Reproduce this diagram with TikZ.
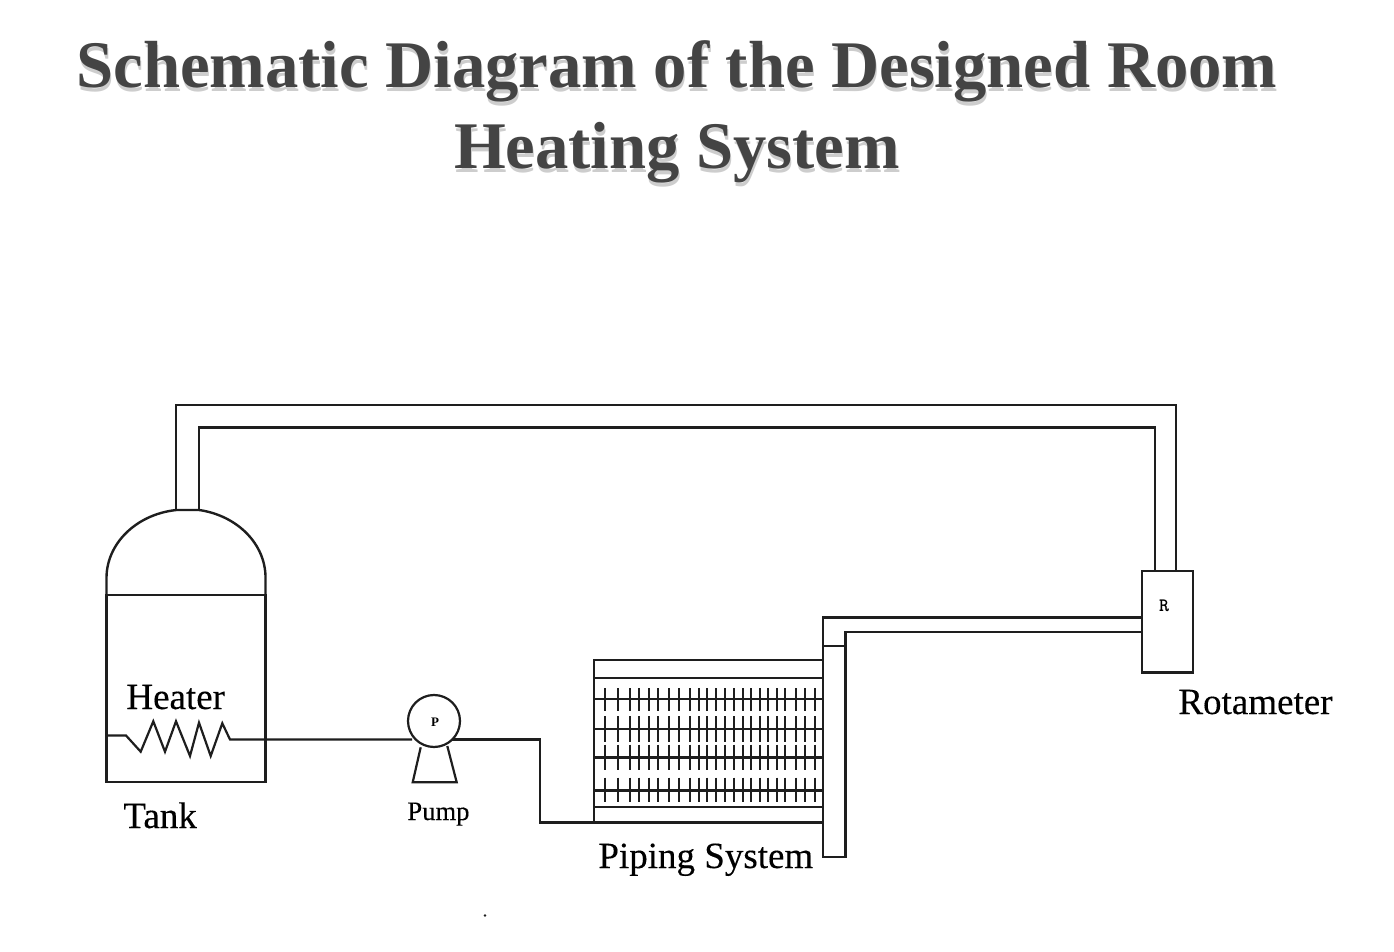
\documentclass[tikz,border=0pt]{standalone}
\usepackage{fontspec}
\setmainfont{Liberation Serif}
\newfontfamily\labfont[FakeBold=0.25]{Liberation Serif}
\definecolor{ink}{HTML}{1E1E1E}
\definecolor{titleink}{HTML}{444444}
\definecolor{titleshade}{HTML}{CDCDCD}
\tikzset{
  px/.style={x=0.5pt,y=-0.5pt},
  pipe/.style={draw=ink,line width=1.2pt,line join=miter},
  thinpipe/.style={draw=ink,line width=1.1pt,line join=miter},
  fin/.style={draw=ink,line width=1pt},
  lab/.style={inner sep=0pt,text=black,font=\labfont\fontsize{18.5}{20}\selectfont},
  titletext/.style={inner sep=0pt,align=center,font=\fontsize{33.3}{40.5}\selectfont\bfseries},
}
\begin{document}
\begin{tikzpicture}[px]
\useasboundingbox (0,0) rectangle (1394,952);
\fill[white] (0,0) rectangle (1394,952);
% title with its soft shadow
\node[titletext,text=titleshade] (titleshadow) at (678,115.5) {Schematic Diagram of the Designed Room\\Heating System};
\node[titletext,text=titleink] (title) at (677,112) {Schematic Diagram of the Designed Room\\Heating System};
% tank
\coordinate (tankTL) at (106.5,595);
\coordinate (tankTR) at (265.5,595);
\coordinate (tankBL) at (106.5,782);
\coordinate (tankBR) at (265.5,782);
\coordinate (domeL) at (106.5,578);
\coordinate (domeR) at (265.5,578);
\coordinate (domeA) at (176,510);
\coordinate (domeB) at (199,510);
\draw[pipe] (tankTL) -- (tankBL) -- (tankBR) -- (tankTR) -- cycle;
\draw[pipe] (tankTL) -- (domeL) arc[start angle=180,end angle=262.8,x radius=79.5,y radius=68.5] -- (domeB) arc[start angle=279.4,end angle=360,x radius=79.5,y radius=68.5] -- (tankTR);
% long return pipe
\coordinate (rotA) at (1155,571);
\coordinate (rotB) at (1176,571);
\draw[pipe] (domeA) -- (176,405) -- (1176,405) -- (rotB);
\draw[pipe] (domeB) -- (199,427.5) -- (1155,427.5) -- (rotA);
% rotameter
\node[draw=ink,line width=1.2pt,outer sep=0pt,minimum width=25.5pt,minimum height=50.7pt,inner sep=0pt,anchor=north west] (rot) at (1142,571) {};
\node[inner sep=0pt,text=black,font=\ttfamily\bfseries\fontsize{9.5}{10}\selectfont] (rotR) at (1164,606) {R};
% pipe rotameter to manifold
\coordinate (rotC) at (1142,617.5);
\coordinate (rotD) at (1142,632);
\coordinate (pipeTop) at (823,660);
\coordinate (colBot) at (823,857);
\draw[pipe] (rotC) -- (823,617.5) -- (pipeTop);
\draw[pipe] (rotD) -- (845.5,632) -- (845.5,857) -- (colBot) -- (pipeTop);
\draw[pipe] (823,646) -- (845.5,646);
% piping system
\coordinate (pL) at (594,660);
\draw[pipe] (pipeTop) -- (pL) -- (594,822.5) -- (823,822.5);
\draw[pipe] (594,678) -- (823,678);
\draw[pipe] (594,807) -- (823,807);
\foreach \y in {699,729,757.5,790.5}
  \draw[pipe] (594,\y) -- (823,\y);
\foreach \x in {605,618.3,630,639.3,649,658.3,669.3,678.7,690.3,698.7,707.3,715.7,724.7,733.7,743,751,760,767.7,776.7,784.7,796,805.3,815}{
  \draw[fin] (\x,688) -- (\x,711);
  \draw[fin] (\x,716) -- (\x,742);
  \draw[fin] (\x,744.5) -- (\x,770);
  \draw[fin] (\x,777.5) -- (\x,802);
}
% heater, pump, feed line
\node[circle,draw=ink,line width=1.1pt,minimum size=26pt,outer sep=0pt,inner sep=0pt] (pump) at (434,721) {};
\node[inner sep=0pt,text=black,font=\bfseries\fontsize{6.5}{7}\selectfont] (pumpP) at (435,722) {P};
\coordinate (feedEnd) at (412,739.5);
\draw[thinpipe] (106.5,735.5) -- (126,735.5) -- (140.7,751.7) -- (153.3,721.3) -- (165,751.7) -- (176,721.3) -- (190,756) -- (199,722.7) -- (210.7,756) -- (222.3,723.3) -- (230,739.5) -- (feedEnd);
\coordinate (pumpOut) at (451.7,739.5);
\draw[pipe] (pumpOut) -- (540,739.5) -- (540,822.5) -- (594,822.5);
\draw[thinpipe] (420.7,747.3) -- (412.7,782.3) -- (456.7,782.3) -- (447.3,746);
% labels
\node[lab,anchor=base west] (heater) at (126,709) {Heater};
\node[lab,anchor=base west] (tank) at (123,828) {Tank};
\node[lab,anchor=base west,font=\labfont\fontsize{13.3}{15}\selectfont] (pumpl) at (407,820) {Pump};
\node[lab,anchor=base west] (piping) at (598,868) {Piping System};
\node[lab,anchor=base west] (rotl) at (1178,714) {Rotameter};
\fill[ink] (485,915.5) circle[radius=0.7pt];
\end{tikzpicture}
\end{document}
